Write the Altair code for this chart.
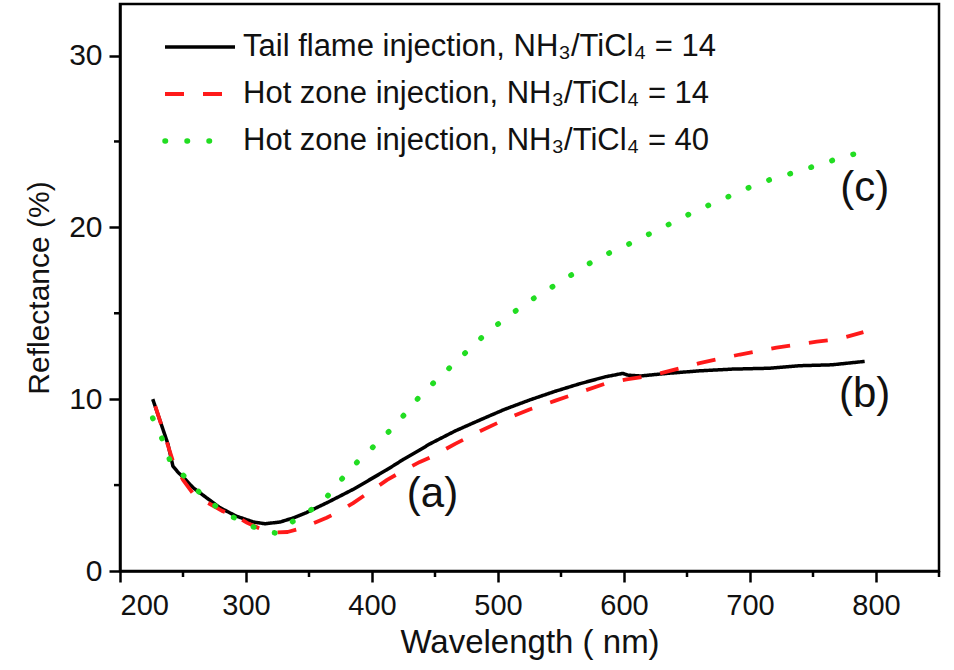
import altair as alt
import pandas as pd

# ---- data ----
series_names = [
    "Tail flame injection, NH\u2083/TiCl\u2084 = 14",
    "Hot zone injection, NH\u2083/TiCl\u2084 = 14",
    "Hot zone injection, NH\u2083/TiCl\u2084 = 40",
]

tail14_x = [226, 232, 238, 242, 246, 251, 258, 268, 279, 292, 306, 315, 327, 338, 348, 365,
            385, 412, 425, 438, 446, 466, 486, 505, 525, 545, 565, 585, 599, 603, 613, 634, 660,
            686, 715, 740, 765, 791]
tail14_y = [10.0, 8.7, 7.4, 6.1, 5.75, 5.4, 4.85, 4.3, 3.7, 3.2, 2.85, 2.75, 2.85, 3.1, 3.4, 4.0,
            4.75, 5.9, 6.5, 7.05, 7.4, 8.15, 8.8, 9.4, 9.95, 10.45, 10.9, 11.3, 11.5, 11.4, 11.35, 11.5, 11.65,
            11.75, 11.8, 11.95, 12.0, 12.2]

hot14_x = [228, 235, 242, 250, 258, 269, 281, 293, 301, 310, 317, 325, 333, 342, 351, 364,
           375, 385, 398, 412, 425, 438, 446, 466, 486, 505, 525, 545, 565, 585, 602, 620,
           634, 660, 692, 721, 753, 770, 790]
hot14_y = [9.6, 8.0, 6.4, 5.3, 4.5, 4.0, 3.5, 3.15, 2.8, 2.5, 2.3, 2.25, 2.27, 2.45, 2.7, 3.1,
           3.5, 3.95, 4.6, 5.3, 5.85, 6.35, 6.6, 7.4, 8.15, 8.8, 9.4, 9.9, 10.4, 10.9, 11.15, 11.35,
           11.6, 12.1, 12.6, 13.0, 13.35, 13.5, 13.9]

hot40_x = [226, 234, 240, 247, 254, 267, 283, 301, 317, 325, 333, 349, 364, 376, 389, 402,
           416, 428, 440, 454, 467, 479, 491, 504, 517, 533, 549, 564, 579, 594, 609, 625,
           642, 658, 674, 691, 708, 724, 740, 757, 774, 790]
hot40_y = [8.9, 7.6, 6.35, 5.8, 5.3, 4.25, 3.4, 2.7, 2.27, 2.2, 2.7, 3.4, 4.3, 5.35, 6.4, 7.3,
           8.3, 9.3, 10.35, 11.3, 12.2, 13.05, 13.85, 14.6, 15.3, 16.1, 16.8, 17.5, 18.2, 18.7, 19.2, 19.8,
           20.4, 21.0, 21.5, 22.05, 22.6, 22.95, 23.3, 23.7, 24.1, 24.4]

ann_labels = ["(a)", "(b)", "(c)"]
ann_x = [448, 791, 791]
ann_y = [4.5, 10.3, 22.3]

x_major = [200, 300, 400, 500, 600, 700, 800]
x_minor = [250, 350, 450, 550, 650, 750, 850]
y_major = [0, 10, 20, 30]
y_minor = [5, 15, 25]

# ---- styles ----
FONT = "Liberation Sans"
styles = [
    dict(color="#000000", strokeWidth=3.5, strokeDash=[1, 0], strokeCap="butt"),
    dict(color="#ff1a1a", strokeWidth=3.8, strokeDash=[19, 19], strokeCap="butt"),
    dict(color="#22dd22", strokeWidth=5.5, strokeDash=[0.5, 21.5], strokeCap="round"),
]
legend_len = [70, 70, 50]

xscale = alt.Scale(domain=[200, 850], nice=False, zero=False)
yscale = alt.Scale(domain=[0, 33], nice=False, zero=False)

# the same axis objects are given to every layer so that they merge cleanly
x_axis = alt.Axis(values=x_major, title="Wavelength ( nm)", labelPadding=9,
                  titlePadding=6, titleFontSize=33, format="d")
y_axis = alt.Axis(values=y_major, title="Reflectance (%)", labelPadding=7, labelFontSize=30,
                  titlePadding=14, titleFontSize=30, format="d")

layers = []
for k, (name, xs, ys) in enumerate(zip(series_names, [tail14_x, hot14_x, hot40_x],
                                       [tail14_y, hot14_y, hot40_y])):
    d = pd.DataFrame({"wl": xs, "refl": ys, "order": list(range(len(xs)))})
    layers.append(
        alt.Chart(d).mark_line(strokeJoin="round", **styles[k]).encode(
            x=alt.X("wl:Q", scale=xscale, axis=x_axis),
            y=alt.Y("refl:Q", scale=yscale, axis=y_axis),
            order="order:Q",
        )
    )

ann_df = pd.DataFrame({"label": ann_labels, "wl": ann_x, "refl": ann_y})
layers.append(
    alt.Chart(ann_df).mark_text(fontSize=42, font=FONT, color="#111111",
                                align="center", baseline="middle").encode(
        x=alt.X("wl:Q", scale=xscale, axis=x_axis),
        y=alt.Y("refl:Q", scale=yscale, axis=y_axis),
        text="label:N",
    )
)

# minor ticks
layers.append(
    alt.Chart(pd.DataFrame({"wl": x_minor})).mark_rule(color="black", strokeWidth=2.5).encode(
        x=alt.X("wl:Q", scale=xscale, axis=x_axis),
        y=alt.value(567), y2=alt.value(573),
    )
)
layers.append(
    alt.Chart(pd.DataFrame({"refl": y_minor})).mark_rule(color="black", strokeWidth=2.5).encode(
        y=alt.Y("refl:Q", scale=yscale, axis=y_axis),
        x=alt.value(0), x2=alt.value(-6),
    )
)

# legend (drawn manually: one row per series)
legend_df = pd.DataFrame({"series": series_names, "row": [0, 1, 2]})
for k, name in enumerate(series_names):
    layers.append(
        alt.Chart(legend_df).transform_filter(alt.datum.row == k)
        .transform_calculate(ly="43 + 47 * datum.row")
        .mark_rule(**styles[k]).encode(
            y=alt.Y("ly:Q", scale=None),
            x=alt.value(45), x2=alt.value(45 + legend_len[k]),
        )
    )
layers.append(
    alt.Chart(legend_df).transform_calculate(ly="43 + 47 * datum.row")
    .mark_text(fontSize=31, font=FONT, color="#111111", align="left", baseline="middle").encode(
        y=alt.Y("ly:Q", scale=None),
        x=alt.value(123),
        text="series:N",
    )
)

chart = alt.layer(*layers).properties(
    width=819, height=567,
    padding={"left": 120, "top": 4, "right": 15, "bottom": 99},
    autosize=alt.AutoSizeParams(type="none"),
    background="white",
).configure_view(
    stroke="black", strokeWidth=2.5
).configure_axis(
    grid=False, domainColor="black", domainWidth=2.5, tickColor="black", tickWidth=2.5,
    tickSize=11, labelFont=FONT, labelFontSize=29, labelColor="#111111",
    titleFont=FONT, titleFontWeight="normal", titleColor="#111111",
)

chart.save("out.html", embed_options={"renderer": "svg", "actions": False})
